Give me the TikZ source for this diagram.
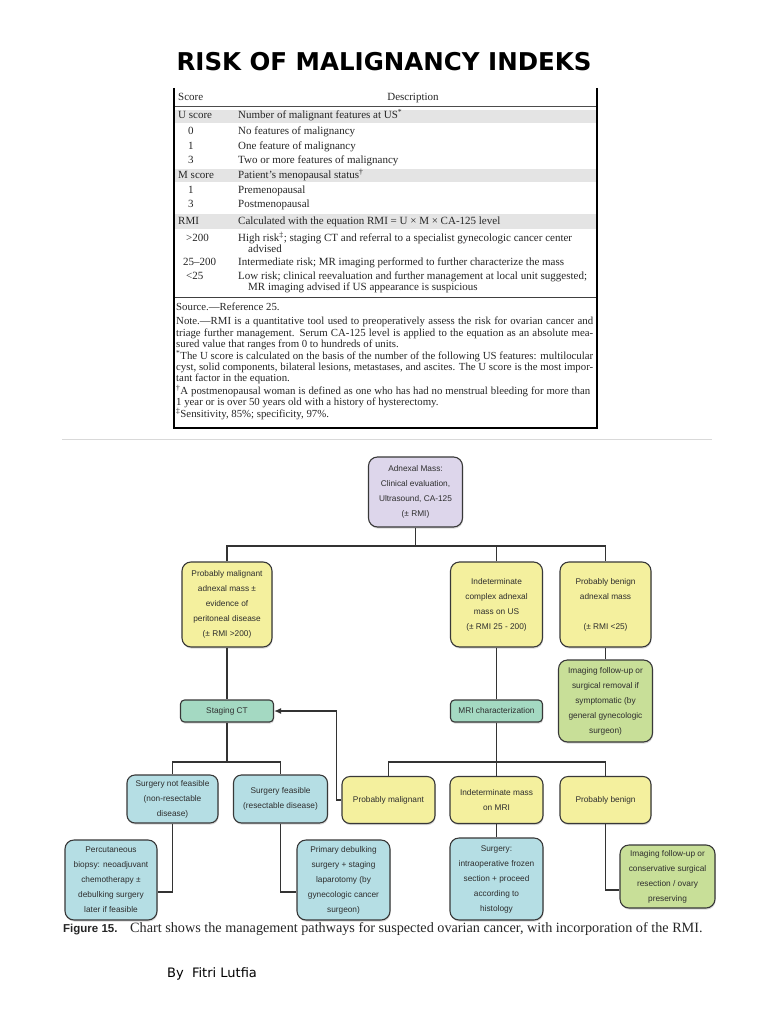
\documentclass[tikz,border=0pt]{standalone}
\usepackage{fontspec}
\setmainfont{Liberation Serif}
\newfontfamily\arialf{Liberation Sans}
\newfontfamily\dejavuf{DejaVu Sans}
\usetikzlibrary{arrows.meta,shadows}

\definecolor{cpur}{HTML}{DDD6EB}
\definecolor{cyel}{HTML}{F4F09E}
\definecolor{cteal}{HTML}{A4D9C2}
\definecolor{cblue}{HTML}{B5DEE4}
\definecolor{cgrn}{HTML}{C8DF98}
\definecolor{tgray}{HTML}{E4E4E4}

\tikzset{
  fbox/.style={draw=black!78, line width=1.1pt, rounded corners=8pt, align=center,
    inner sep=1pt, text=black!82, font=\arialf\fontsize{8.3}{15}\selectfont,
    drop shadow={opacity=0.3, shadow xshift=0.6pt, shadow yshift=-1.6pt}},
  conn/.style={draw=black!80, line width=1.3pt},
  trow/.style={inner sep=0pt, anchor=mid west, text=black!85, font=\fontsize{11}{13}\selectfont},
  tnote/.style={inner sep=0pt, anchor=mid west, text=black!85, font=\fontsize{10.8}{12}\selectfont},
}

\begin{document}
\begin{tikzpicture}[x=1pt,y=-1pt]
\useasboundingbox (0,0) rectangle (768,1024);
\fill[white] (0,0) rectangle (768,1024);

% title
\node[inner sep=0pt, font=\dejavuf\bfseries\fontsize{24.5}{28}\selectfont] (title) at (384,62) {RISK OF MALIGNANCY INDEKS};

% table
\fill[tgray] (175,110) rectangle (596,123.5);
\fill[tgray] (175,169) rectangle (596,182.5);
\fill[tgray] (175,214.5) rectangle (596,229.5);
\draw[black!70, line width=0.7pt] (175,106.5) -- (596,106.5);
\draw[black!75, line width=1pt] (175,297) -- (596,297);
\draw[black, line width=1.6pt] (173,428) -- (598,428);
\draw[black, line width=2.4pt] (174,88) -- (174,429);
\draw[black, line width=2pt] (597,88) -- (597,429);

\node[trow] (h1) at (178,98) {Score};
\node[trow, anchor=mid] (h2) at (413,98) {Description};

\node[trow] (s1) at (178,116.5) {U score};
\node[trow] (d1) at (238,116.5) {Number of malignant features at US\textsuperscript{*}};
\node[trow] (s2) at (188,132) {0};
\node[trow] (d2) at (238,132) {No features of malignancy};
\node[trow] (s3) at (188,147) {1};
\node[trow] (d3) at (238,147) {One feature of malignancy};
\node[trow] (s4) at (188,161) {3};
\node[trow] (d4) at (238,161) {Two or more features of malignancy};
\node[trow] (s5) at (178,176) {M score};
\node[trow] (d5) at (238,176) {Patient’s menopausal status\textsuperscript{†}};
\node[trow] (s6) at (188,191) {1};
\node[trow] (d6) at (238,191) {Premenopausal};
\node[trow] (s7) at (188,205) {3};
\node[trow] (d7) at (238,205) {Postmenopausal};
\node[trow] (s8) at (178,222) {RMI};
\node[trow] (d8) at (238,222) {Calculated with the equation RMI = U × M × CA-125 level};
\node[trow] (s9) at (186,239) {>200};
\node[trow] (d9) at (238,239) {High risk\textsuperscript{‡}; staging CT and referral to a specialist gynecologic cancer center};
\node[trow] (d9b) at (248,250) {advised};
\node[trow] (s10) at (183,263) {25–200};
\node[trow] (d10) at (238,263) {Intermediate risk; MR imaging performed to further characterize the mass};
\node[trow] (s11) at (186,277) {<25};
\node[trow] (d11) at (238,277) {Low risk; clinical reevaluation and further management at local unit suggested;};
\node[trow] (d11b) at (248,288) {MR imaging advised if US appearance is suspicious};

\node[tnote] (n0) at (176,308) {Source.—Reference 25.};
\node[tnote] (n1) at (176,322) {\makebox[417pt][s]{Note.—RMI is a quantitative tool used to preoperatively assess the risk for ovarian cancer and}};
\node[tnote] (n2) at (176,334) {\makebox[417pt][s]{triage further management. Serum CA-125 level is applied to the equation as an absolute mea-}};
\node[tnote] (n3) at (176,345) {sured value that ranges from 0 to hundreds of units.};
\node[tnote] (n4) at (176,357) {\makebox[417pt][s]{\textsuperscript{*}The U score is calculated on the basis of the number of the following US features: multilocular}};
\node[tnote] (n5) at (176,368) {\makebox[417pt][s]{cyst, solid components, bilateral lesions, metastases, and ascites. The U score is the most impor-}};
\node[tnote] (n6) at (176,379) {tant factor in the equation.};
\node[tnote] (n7) at (176,392) {\makebox[414pt][s]{\textsuperscript{†}A postmenopausal woman is defined as one who has had no menstrual bleeding for more than}};
\node[tnote] (n8) at (176,403) {1 year or is over 50 years old with a history of hysterectomy.};
\node[tnote] (n9) at (176,415) {\textsuperscript{‡}Sensitivity, 85\%; specificity, 97\%.};

% separator
\draw[black!15, line width=0.8pt] (62,439) -- (712,439);

% flowchart nodes
\node[fbox, fill=cpur, minimum width=94pt, minimum height=70pt, rounded corners=9pt] (top) at (415.5,492)
  {Adnexal Mass:\\Clinical evaluation,\\Ultrasound, CA-125\\(± RMI)};
\node[fbox, fill=cyel, minimum width=90pt, minimum height=85pt, rounded corners=9pt] (pm) at (227,604.5)
  {Probably malignant\\adnexal mass ±\\evidence of\\peritoneal disease\\(± RMI >200)};
\node[fbox, fill=cyel, minimum width=92pt, minimum height=85pt, rounded corners=9pt] (ind) at (496.5,604.5)
  {Indeterminate\\complex adnexal\\mass on US\\(± RMI 25 - 200)};
\node[fbox, fill=cyel, minimum width=91pt, minimum height=85pt, rounded corners=9pt] (ben) at (605.5,604.5)
  {Probably benign\\adnexal mass\\[15pt](± RMI <25)};
\node[fbox, fill=cgrn, minimum width=94pt, minimum height=82pt, rounded corners=9pt] (img1) at (605.5,701)
  {Imaging follow-up or\\surgical removal if\\symptomatic (by\\general gynecologic\\surgeon)};
\node[fbox, fill=cteal, minimum width=93pt, minimum height=22pt, rounded corners=4pt] (ct) at (227,711) {Staging CT};
\node[fbox, fill=cteal, minimum width=92pt, minimum height=22pt, rounded corners=4pt] (mri) at (496.5,711) {MRI characterization};

\node[fbox, fill=cblue, minimum width=91pt, minimum height=48pt] (snf) at (172.5,799)
  {Surgery not feasible\\(non-resectable\\disease)};
\node[fbox, fill=cblue, minimum width=94pt, minimum height=48pt] (sf) at (280.5,799)
  {Surgery feasible\\(resectable disease)};
\node[fbox, fill=cyel, minimum width=93pt, minimum height=47pt] (pmal) at (388.5,800) {Probably malignant};
\node[fbox, fill=cyel, minimum width=93pt, minimum height=47pt] (imri) at (496.5,800) {Indeterminate mass\\on MRI};
\node[fbox, fill=cyel, minimum width=91pt, minimum height=47pt] (pben) at (605.5,800) {Probably benign};

\node[fbox, fill=cblue, minimum width=92pt, minimum height=80pt, rounded corners=9pt] (perc) at (111,880)
  {Percutaneous\\biopsy: neoadjuvant\\chemotherapy ±\\debulking surgery\\later if feasible};
\node[fbox, fill=cblue, minimum width=93pt, minimum height=80pt, rounded corners=9pt] (prim) at (343.5,880)
  {Primary debulking\\surgery + staging\\laparotomy (by\\gynecologic cancer\\surgeon)};
\node[fbox, fill=cblue, minimum width=93pt, minimum height=82pt, rounded corners=9pt] (surg) at (496.5,879)
  {Surgery:\\intraoperative frozen\\section + proceed\\according to\\histology};
\node[fbox, fill=cgrn, minimum width=95pt, minimum height=63pt, rounded corners=9pt] (img2) at (667.5,876.5)
  {Imaging follow-up or\\conservative surgical\\resection / ovary\\preserving};

% connectors
\coordinate (hbar) at (0,546);
\coordinate (lbar) at (0,762);
\draw[conn] (top.south) -- (top.south |- hbar);
\draw[conn] (pm.north) -- (pm.north |- hbar) -- (ben.north |- hbar) -- (ben.north);
\draw[conn] (ind.north) -- (ind.north |- hbar);
\draw[conn] (pm) -- (ct);
\draw[conn] (ind) -- (mri);
\draw[conn] (ben) -- (img1);
\draw[conn] (ct.south) -- (ct.south |- lbar);
\draw[conn] (snf.north) -- (snf.north |- lbar) -- (sf.north |- lbar) -- (sf.north);
\draw[conn] (mri.south) -- (mri.south |- lbar);
\draw[conn] (pmal.north) -- (pmal.north |- lbar) -- (pben.north |- lbar) -- (pben.north);
\draw[conn] (imri.north) -- (imri.north |- lbar);
\draw[conn, -{Latex[length=7pt,width=6pt]}] (pmal.west) -- ++(-5,0) |- (ct.east);
\draw[conn] (snf.south) |- ([yshift=-12pt]perc.east);
\draw[conn] (sf.south) |- ([yshift=-12pt]prim.west);
\draw[conn] (imri) -- (surg);
\draw[conn] (pben.south) |- ([yshift=-13.5pt]img2.west);

% caption
\node[inner sep=0pt, anchor=mid west, font=\arialf\bfseries\fontsize{11.5}{13}\selectfont, text=black!85] (figl) at (63,930) {Figure 15.};
\node[inner sep=0pt, anchor=mid west, font=\fontsize{14.2}{16}\selectfont, text=black!85] (cap) at (130,930)
  {Chart shows the management pathways for suspected ovarian cancer, with incorporation of the RMI.};

\node[inner sep=0pt, anchor=mid west, font=\dejavuf\fontsize{13}{15}\selectfont] (by) at (167,975) {By\ \ Fitri Lutfia};
\end{tikzpicture}
\end{document}
